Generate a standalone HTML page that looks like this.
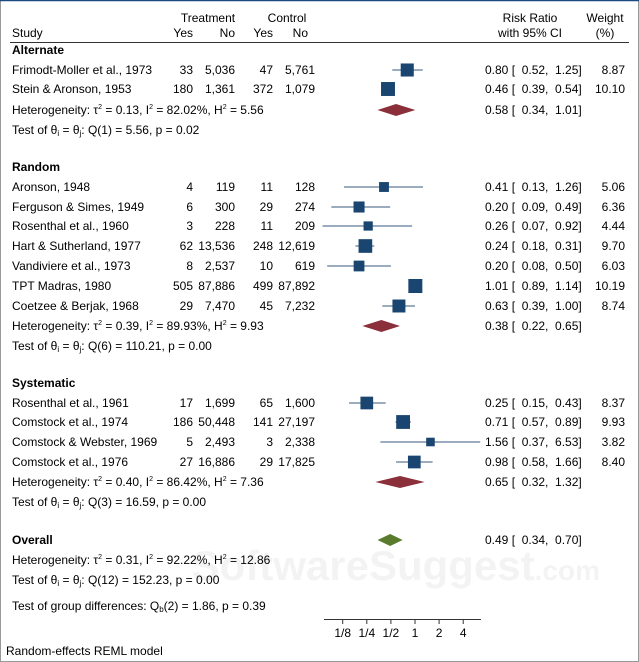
<!DOCTYPE html>
<html><head><meta charset="utf-8"><style>
body{margin:0;background:#fff}
svg{display:block;font-family:"Liberation Sans",Arial,sans-serif;font-size:12px}
text{white-space:pre}
</style></head><body>
<svg id="s" width="639" height="662" xmlns="http://www.w3.org/2000/svg"></svg>
<script>
const s=document.getElementById('s');let h='';
h+='<rect x="0.5" y="0.5" width="638" height="661" fill="#fff" stroke="#999"/>';
h+='<line x1="0" y1="0.5" x2="639" y2="0.5" stroke="#1a4a80" stroke-width="1.5"/>';
h+='<text x="600" y="580" font-size="42" font-weight="bold" fill="#000" opacity="0.045" text-anchor="end">SoftwareSuggest<tspan font-size="28">.com</tspan></text>';
function T(x,y,t,a,b){h+=`<text x="${x}" y="${y}" ${a?'text-anchor="'+a+'"':''} ${b?'font-weight="bold"':''}>${t}</text>`;}
const SUP=n=>`<tspan dy="-5" font-size="7">${n}</tspan><tspan dy="5">`;
T(208,22,'Treatment','middle');T(287,22,'Control','middle');
T(12,37,'Study');T(193,37,'Yes','end');T(235,37,'No','end');T(273,37,'Yes','end');T(308,37,'No','end');
T(530,22,'Risk Ratio','middle');T(605,22,'Weight','middle');T(530,37,'with 95% CI','middle');T(605,37,'(%)','middle');
h+='<line x1="10" y1="42.5" x2="629" y2="42.5" stroke="#333"/>';
const X=r=>415+24.1*Math.log2(r);
const ci=(rr,lo,hi)=>`${rr} [  ${lo},  ${hi}]`;
function row(y,name,a,b,c,d,rr,lo,hi,w){
 T(12,y+4,name);T(193,y+4,a,'end');T(235,y+4,b,'end');T(273,y+4,c,'end');T(315,y+4,d,'end');
 T(485,y+4,ci(rr,lo,hi));T(625,y+4,w,'end');
 let x1=Math.max(X(+lo),320),x2=Math.min(X(+hi),482);
 h+=`<line x1="${x1}" y1="${y}" x2="${x2}" y2="${y}" stroke="#7890a8" stroke-width="1.5"/>`;
 let sz=14*Math.sqrt(+w/10.19),cx=X(+rr);
 h+=`<rect x="${cx-sz/2}" y="${y-sz/2}" width="${sz}" height="${sz}" fill="#1a4570"/>`;
}
function dia(y,rr,lo,hi,col){
 h+=`<polygon points="${X(lo)},${y} ${X(rr)},${y-6} ${X(hi)},${y} ${X(rr)},${y+6}" fill="${col}"/>`;
 T(485,y+4,ci(rr.toFixed(2),lo.toFixed(2),hi.toFixed(2)));
}
function het(y,t,i,hh){T(12,y,'Heterogeneity: τ'+SUP(2)+` = ${t}, I</tspan>`+SUP(2)+` = ${i}%, H</tspan>`+SUP(2)+` = ${hh}</tspan>`);}
function test(y,q){T(12,y,'Test of θ<tspan font-size="8" dy="2">i</tspan><tspan dy="-2"> = θ</tspan><tspan font-size="8" dy="2">j</tspan><tspan dy="-2">: '+q+'</tspan>');}
T(12,54,'Alternate',0,1);
row(70,'Frimodt-Moller et al., 1973','33','5,036','47','5,761','0.80','0.52','1.25','8.87');
row(89,'Stein &amp; Aronson, 1953','180','1,361','372','1,079','0.46','0.39','0.54','10.10');
het(114,'0.13','82.02','5.56');
dia(110,0.58,0.34,1.01,'#8b2f3a');
test(134,'Q(1) = 5.56, p = 0.02');
T(12,171,'Random',0,1);
[[187,'Aronson, 1948','4','119','11','128','0.41','0.13','1.26','5.06'],
[207,'Ferguson &amp; Simes, 1949','6','300','29','274','0.20','0.09','0.49','6.36'],
[226,'Rosenthal et al., 1960','3','228','11','209','0.26','0.07','0.92','4.44'],
[246,'Hart &amp; Sutherland, 1977','62','13,536','248','12,619','0.24','0.18','0.31','9.70'],
[266,'Vandiviere et al., 1973','8','2,537','10','619','0.20','0.08','0.50','6.03'],
[286,'TPT Madras, 1980','505','87,886','499','87,892','1.01','0.89','1.14','10.19'],
[306,'Coetzee &amp; Berjak, 1968','29','7,470','45','7,232','0.63','0.39','1.00','8.74']].forEach(r=>row(...r));
het(330,'0.39','89.93','9.93');
dia(326,0.38,0.22,0.65,'#8b2f3a');
test(350,'Q(6) = 110.21, p = 0.00');
T(12,387,'Systematic',0,1);
[[403,'Rosenthal et al., 1961','17','1,699','65','1,600','0.25','0.15','0.43','8.37'],
[422,'Comstock et al., 1974','186','50,448','141','27,197','0.71','0.57','0.89','9.93'],
[442,'Comstock &amp; Webster, 1969','5','2,493','3','2,338','1.56','0.37','6.53','3.82'],
[462,'Comstock et al., 1976','27','16,886','29','17,825','0.98','0.58','1.66','8.40']].forEach(r=>row(...r));
het(486,'0.40','86.42','7.36');
dia(482,0.65,0.32,1.32,'#8b2f3a');
test(506,'Q(3) = 16.59, p = 0.00');
T(12,544,'Overall',0,1);
dia(540,0.49,0.34,0.70,'#5a7a2e');
het(564,'0.31','92.22','12.86');
test(584,'Q(12) = 152.23, p = 0.00');
T(12,610,'Test of group differences: Q<tspan font-size="8" dy="2">b</tspan><tspan dy="-2">(2) = 1.86, p = 0.39</tspan>');
h+='<line x1="324" y1="619.5" x2="481" y2="619.5" stroke="#333"/>';
[['1/8',1/8],['1/4',.25],['1/2',.5],['1',1],['2',2],['4',4]].forEach(([l,v])=>{let x=X(v);h+=`<line x1="${x}" y1="619" x2="${x}" y2="624" stroke="#333"/>`;T(x,637,l,'middle');});
T(6,655,'Random-effects REML model');
s.innerHTML=h;
</script>
</body></html>
